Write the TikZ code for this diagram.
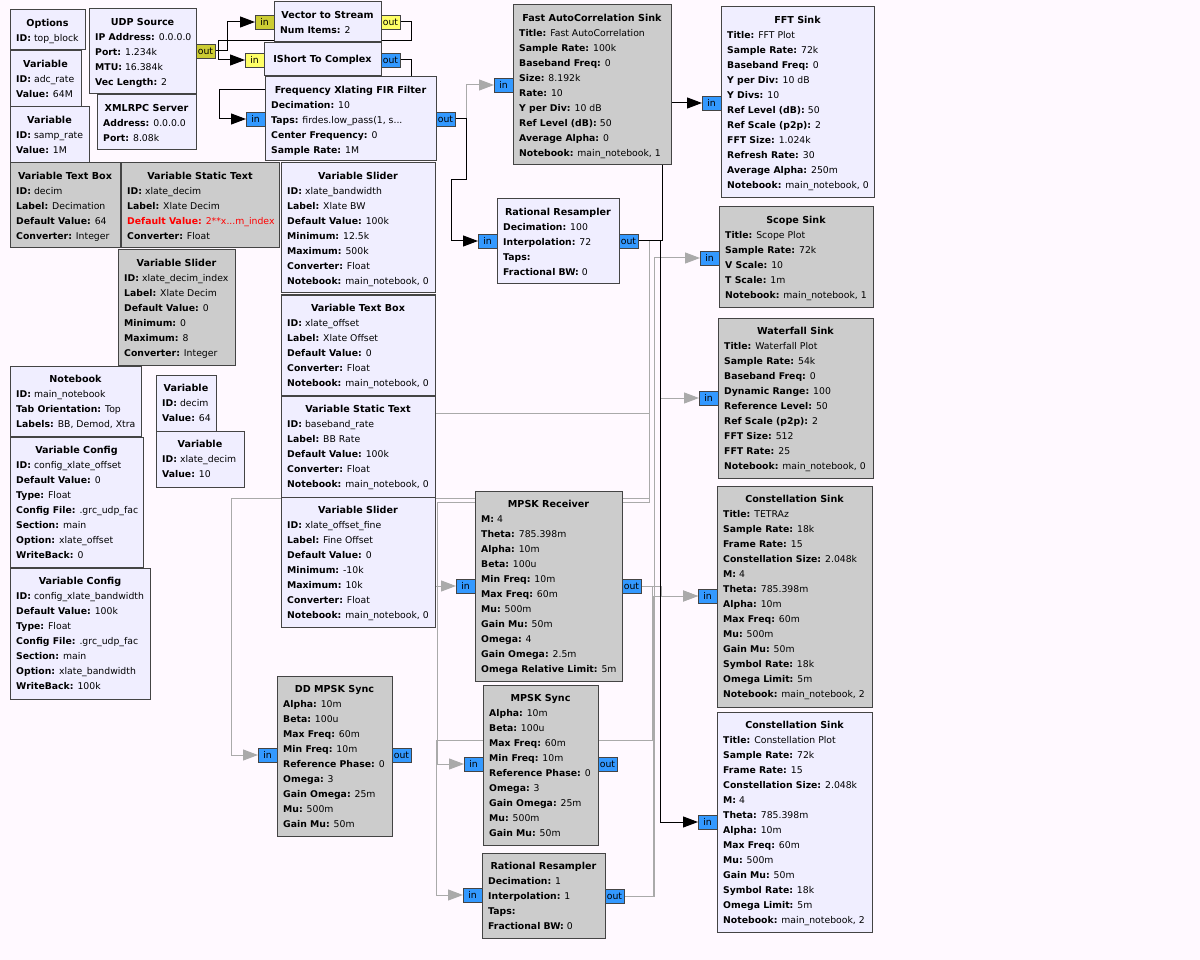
\documentclass[tikz,border=0pt]{standalone}
\usepackage{fontspec}
\setmainfont{DejaVu Sans}
\usetikzlibrary{calc,arrows.meta}
\pgfdeclarelayer{back}\pgfdeclarelayer{wires}
\pgfsetlayers{back,wires,main}
\definecolor{bgc}{HTML}{FFF9FF}
\definecolor{enab}{HTML}{F0EEFF}
\definecolor{disab}{HTML}{CCCCCC}
\definecolor{bord}{HTML}{444444}
\definecolor{cplx}{HTML}{3399FF}
\definecolor{shrt}{HTML}{FFFF66}
\definecolor{shrtv}{HTML}{CCCC33}
\definecolor{offc}{HTML}{AAAAAA}
\tikzset{
 blockbox/.style={draw=bord, line width=1pt, inner sep=0pt, outer sep=0pt},
 lb/.style={fill=enab}, gb/.style={fill=disab},
 titletext/.style={font=\fontsize{9.6}{11}\selectfont\bfseries, anchor=mid, inner sep=0pt},
 linetext/.style={font=\fontsize{9.3}{11}\selectfont, anchor=mid west, inner sep=0pt},
 portbox/.style={draw=bord, line width=0.8pt, minimum width=19pt, minimum height=14pt, inner sep=0pt, outer sep=0pt, font=\fontsize{9.3}{11}\selectfont},
 on/.style={draw=black, line width=1pt, -{Triangle[length=15pt,width=11pt]}},
 off/.style={draw=offc, line width=1pt, -{Triangle[length=15pt,width=11pt]}},
}
\newcommand\tdd{...}
\newcommand\bk[8]{%
  \node[blockbox,#2,minimum width={#5-#3},minimum height={#6-#4},anchor=north west] (#1) at (#3,-#4) {};
  \node[titletext] at ($(#1.north)+(0,-13.5)$) {#7};
  \foreach \bline [count=\bi] in {#8} {\node[linetext] at ($(#1.north west)+(6,-13.5-15*\bi)$) {\bline};}
}
\newcommand\pin[4]{\path let \p1=(#2.west) in node[portbox,fill=#4,anchor=east] (#1) at (\x1,-#3) {in};}
\newcommand\pout[4]{\path let \p1=(#2.east) in node[portbox,fill=#4,anchor=west] (#1) at (\x1,-#3) {out};}
\newcommand\fwd[3]{\draw[#1] let \p1=($(#2.east)+(11,0)$), \p2=($(#3.west)+(-27,0)$) in (#2.east) -- ({(\x1+\x2)/2},\y1) -- ({(\x1+\x2)/2},\y2) -- (#3.west);}
\newcommand\bwd[3]{\draw[#1] let \p1=($(#2.east)+(11,0)$), \p2=($(#3.west)+(-27,0)$) in (#2.east) -- (\p1) -- (\x1,{(\y1+\y2)/2}) -- (\x2,{(\y1+\y2)/2}) -- (\p2) -- (#3.west);}
\newcommand\K[1]{\textbf{#1:}}
\begin{document}
\begin{tikzpicture}[x=1pt,y=1pt]
\begin{pgfonlayer}{back}
\fill[bgc] (0,0) rectangle (1200,-960);
\end{pgfonlayer}
\useasboundingbox (0,0) rectangle (1200,-960);

% left column
\bk{opt}{lb}{10}{10}{85}{50}{Options}{{\K{ID} top\_block}}
\bk{vadc}{lb}{10}{51}{81}{107}{Variable}{{\K{ID} adc\_rate},{\K{Value} 64M}}
\bk{vsr}{lb}{10}{107}{89}{163}{Variable}{{\K{ID} samp\_rate},{\K{Value} 1M}}
\bk{udp}{lb}{89}{9}{196}{94}{UDP Source}{{\K{IP Address} 0.0.0.0},{\K{Port} 1.234k},{\K{MTU} 16.384k},{\K{Vec Length} 2}}
\bk{xml}{lb}{97}{95}{196}{150}{XMLRPC Server}{{\K{Address} 0.0.0.0},{\K{Port} 8.08k}}
\bk{vtb}{gb}{10}{163}{120}{248}{Variable Text Box}{{\K{ID} decim},{\K{Label} Decimation},{\K{Default Value} 64},{\K{Converter} Integer}}
\bk{vst}{gb}{121}{163}{279}{248}{Variable Static Text}{{\K{ID} xlate\_decim},{\K{Label} Xlate Decim},{\color{red}\K{Default Value} 2**x\tdd m\_index},{\K{Converter} Float}}
\bk{vsl1}{gb}{118}{250}{235}{365}{Variable Slider}{{\K{ID} xlate\_decim\_index},{\K{Label} Xlate Decim},{\K{Default Value} 0},{\K{Minimum} 0},{\K{Maximum} 8},{\K{Converter} Integer}}
\bk{nb}{lb}{10}{366}{141}{436}{Notebook}{{\K{ID} main\_notebook},{\K{Tab Orientation} Top},{\K{Labels} BB, Demod, Xtra}}
\bk{vdec}{lb}{156}{375}{216}{431}{Variable}{{\K{ID} decim},{\K{Value} 64}}
\bk{vxd}{lb}{156}{431}{244}{487}{Variable}{{\K{ID} xlate\_decim},{\K{Value} 10}}
\bk{vc1}{lb}{10}{437}{143}{567}{Variable Config}{{\K{ID} config\_xlate\_offset},{\K{Default Value} 0},{\K{Type} Float},{\K{Config File} .grc\_udp\_fac},{\K{Section} main},{\K{Option} xlate\_offset},{\K{WriteBack} 0}}
\bk{vc2}{lb}{10}{568}{150}{699}{Variable Config}{{\K{ID} config\_xlate\_bandwidth},{\K{Default Value} 100k},{\K{Type} Float},{\K{Config File} .grc\_udp\_fac},{\K{Section} main},{\K{Option} xlate\_bandwidth},{\K{WriteBack} 100k}}

% middle column
\bk{vsl2}{lb}{281}{163}{435}{293}{Variable Slider}{{\K{ID} xlate\_bandwidth},{\K{Label} Xlate BW},{\K{Default Value} 100k},{\K{Minimum} 12.5k},{\K{Maximum} 500k},{\K{Converter} Float},{\K{Notebook} main\_notebook, 0}}
\bk{vtb2}{lb}{281}{295}{435}{395}{Variable Text Box}{{\K{ID} xlate\_offset},{\K{Label} Xlate Offset},{\K{Default Value} 0},{\K{Converter} Float},{\K{Notebook} main\_notebook, 0}}
\bk{vst2}{lb}{281}{396}{435}{497}{Variable Static Text}{{\K{ID} baseband\_rate},{\K{Label} BB Rate},{\K{Default Value} 100k},{\K{Converter} Float},{\K{Notebook} main\_notebook, 0}}
\bk{vsl3}{lb}{281}{497}{435}{627}{Variable Slider}{{\K{ID} xlate\_offset\_fine},{\K{Label} Fine Offset},{\K{Default Value} 0},{\K{Minimum} -10k},{\K{Maximum} 10k},{\K{Converter} Float},{\K{Notebook} main\_notebook, 0}}
\bk{v2s}{lb}{274}{2}{381}{42}{Vector to Stream}{{\K{Num Items} 2}}
\node[blockbox,lb,minimum width=117,minimum height=33,anchor=north west] (ish) at (264,-43) {};
\node[titletext] at ($(ish.center)+(0,-0.5)$) {IShort To Complex};
\bk{frq}{lb}{265}{77}{436}{161}{Frequency Xlating FIR Filter}{{\K{Decimation} 10},{\K{Taps} firdes.low\_pass(1, s\tdd},{\K{Center Frequency} 0},{\K{Sample Rate} 1M}}
\bk{fac}{gb}{513}{5}{671}{165}{Fast AutoCorrelation Sink}{{\K{Title} Fast AutoCorrelation},{\K{Sample Rate} 100k},{\K{Baseband Freq} 0},{\K{Size} 8.192k},{\K{Rate} 10},{\K{Y per Div} 10 dB},{\K{Ref Level (dB)} 50},{\K{Average Alpha} 0},{\K{Notebook} main\_notebook, 1}}
\bk{rr1}{lb}{497}{199}{619}{284}{Rational Resampler}{{\K{Decimation} 100},{\K{Interpolation} 72},{\K{Taps}},{\K{Fractional BW} 0}}
\bk{mr}{gb}{475}{491}{622}{681}{MPSK Receiver}{{\K{M} 4},{\K{Theta} 785.398m},{\K{Alpha} 10m},{\K{Beta} 100u},{\K{Min Freq} 10m},{\K{Max Freq} 60m},{\K{Mu} 500m},{\K{Gain Mu} 50m},{\K{Omega} 4},{\K{Gain Omega} 2.5m},{\K{Omega Relative Limit} 5m}}
\bk{ms}{gb}{483}{685}{598}{845}{MPSK Sync}{{\K{Alpha} 10m},{\K{Beta} 100u},{\K{Max Freq} 60m},{\K{Min Freq} 10m},{\K{Reference Phase} 0},{\K{Omega} 3},{\K{Gain Omega} 25m},{\K{Mu} 500m},{\K{Gain Mu} 50m}}
\bk{rr2}{gb}{482}{853}{605}{938}{Rational Resampler}{{\K{Decimation} 1},{\K{Interpolation} 1},{\K{Taps}},{\K{Fractional BW} 0}}
\bk{dd}{gb}{277}{676}{392}{836}{DD MPSK Sync}{{\K{Alpha} 10m},{\K{Beta} 100u},{\K{Max Freq} 60m},{\K{Min Freq} 10m},{\K{Reference Phase} 0},{\K{Omega} 3},{\K{Gain Omega} 25m},{\K{Mu} 500m},{\K{Gain Mu} 50m}}

% right column
\bk{fft}{lb}{721}{7}{874}{198}{FFT Sink}{{\K{Title} FFT Plot},{\K{Sample Rate} 72k},{\K{Baseband Freq} 0},{\K{Y per Div} 10 dB},{\K{Y Divs} 10},{\K{Ref Level (dB)} 50},{\K{Ref Scale (p2p)} 2},{\K{FFT Size} 1.024k},{\K{Refresh Rate} 30},{\K{Average Alpha} 250m},{\K{Notebook} main\_notebook, 0}}
\bk{sco}{gb}{719}{207}{873}{307}{Scope Sink}{{\K{Title} Scope Plot},{\K{Sample Rate} 72k},{\K{V Scale} 10},{\K{T Scale} 1m},{\K{Notebook} main\_notebook, 1}}
\bk{wf}{gb}{718}{318}{873}{478}{Waterfall Sink}{{\K{Title} Waterfall Plot},{\K{Sample Rate} 54k},{\K{Baseband Freq} 0},{\K{Dynamic Range} 100},{\K{Reference Level} 50},{\K{Ref Scale (p2p)} 2},{\K{FFT Size} 512},{\K{FFT Rate} 25},{\K{Notebook} main\_notebook, 0}}
\bk{c1}{gb}{717}{486}{872}{707}{Constellation Sink}{{\K{Title} TETRAz},{\K{Sample Rate} 18k},{\K{Frame Rate} 15},{\K{Constellation Size} 2.048k},{\K{M} 4},{\K{Theta} 785.398m},{\K{Alpha} 10m},{\K{Max Freq} 60m},{\K{Mu} 500m},{\K{Gain Mu} 50m},{\K{Symbol Rate} 18k},{\K{Omega Limit} 5m},{\K{Notebook} main\_notebook, 2}}
\bk{c2}{lb}{717}{712}{872}{932}{Constellation Sink}{{\K{Title} Constellation Plot},{\K{Sample Rate} 72k},{\K{Frame Rate} 15},{\K{Constellation Size} 2.048k},{\K{M} 4},{\K{Theta} 785.398m},{\K{Alpha} 10m},{\K{Max Freq} 60m},{\K{Mu} 500m},{\K{Gain Mu} 50m},{\K{Symbol Rate} 18k},{\K{Omega Limit} 5m},{\K{Notebook} main\_notebook, 2}}

% ports
\pout{udpo}{udp}{51}{shrtv}
\pin{v2si}{v2s}{22}{shrtv}
\pout{v2so}{v2s}{22}{shrt}
\pin{ishi}{ish}{60}{shrt}
\pout{isho}{ish}{60}{cplx}
\pin{frqi}{frq}{119}{cplx}
\pout{frqo}{frq}{119}{cplx}
\pin{faci}{fac}{85}{cplx}
\pin{rr1i}{rr1}{241}{cplx}
\pout{rr1o}{rr1}{241}{cplx}
\pin{ffti}{fft}{103}{cplx}
\pin{scoi}{sco}{258}{cplx}
\pin{wfi}{wf}{398}{cplx}
\pin{c1i}{c1}{596}{cplx}
\pin{c2i}{c2}{822}{cplx}
\pin{mri}{mr}{586}{cplx}
\pout{mro}{mr}{586}{cplx}
\pin{msi}{ms}{764}{cplx}
\pout{mso}{ms}{764}{cplx}
\pin{rr2i}{rr2}{895}{cplx}
\pout{rr2o}{rr2}{896}{cplx}
\pin{ddi}{dd}{755}{cplx}
\pout{ddo}{dd}{755}{cplx}

% connections
\begin{pgfonlayer}{wires}
\fwd{off}{frqo}{faci}
\fwd{off}{rr1o}{wfi}
\bwd{off}{rr1o}{mri}
\bwd{off}{rr1o}{ddi}
\bwd{off}{rr1o}{msi}
\bwd{off}{mro}{rr2i}
\fwd{off}{mro}{c1i}
\fwd{off}{rr2o}{c1i}
\fwd{off}{rr2o}{scoi}
\fwd{on}{udpo}{v2si}
\bwd{on}{v2so}{ishi}
\bwd{on}{isho}{frqi}
\bwd{on}{frqo}{rr1i}
\fwd{on}{rr1o}{ffti}
\fwd{on}{rr1o}{c2i}
\end{pgfonlayer}
\end{tikzpicture}
\end{document}
